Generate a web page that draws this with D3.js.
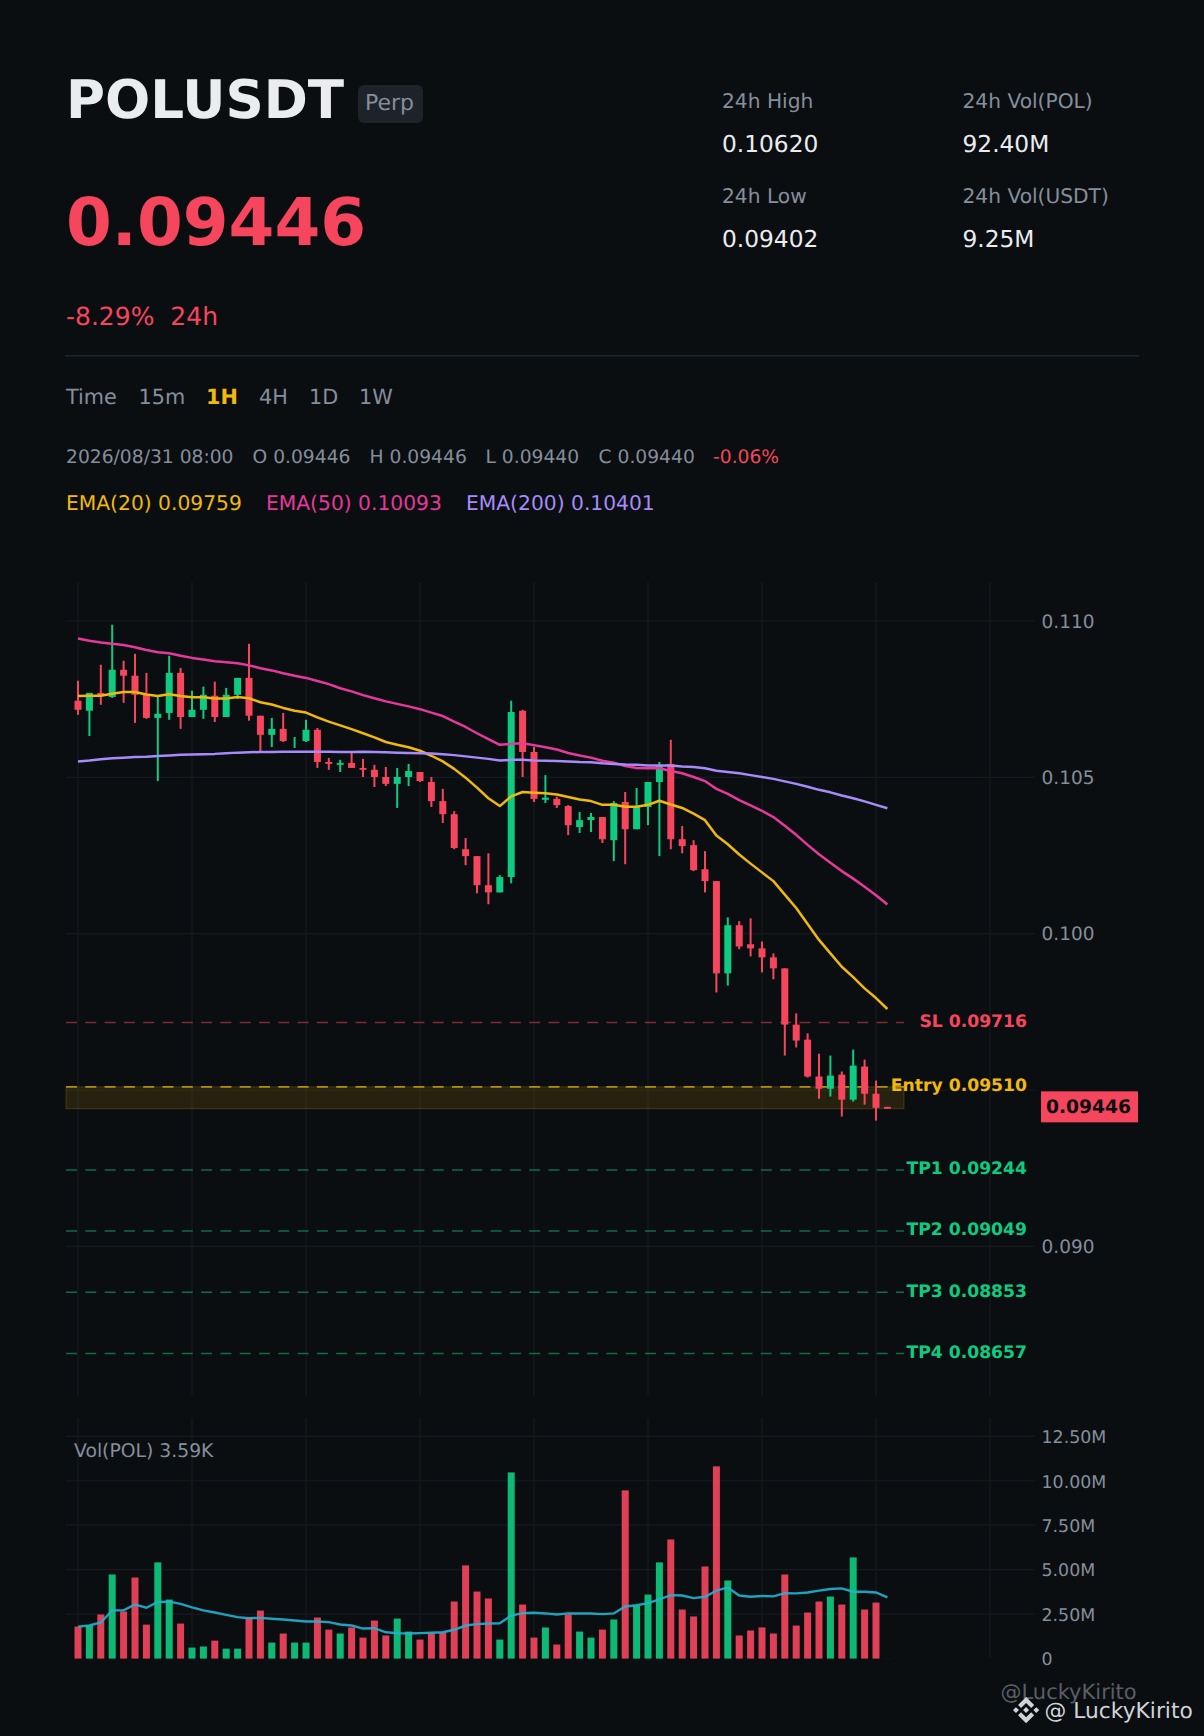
<!DOCTYPE html>
<html><head><meta charset="utf-8">
<script src="https://cdn.jsdelivr.net/npm/d3@7"></script>
<style>html,body{margin:0;padding:0;background:#0B0E11}svg{display:block}text{font-family:"DejaVu Sans",sans-serif;white-space:pre;text-rendering:geometricPrecision}</style>
</head><body><div id="chart"></div>
<script>
const opens=[.10745,.10713,.10770,.10757,.10844,.10825,.10764,.10690,.10706,.10834,.10693,.10716,.10761,.10693,.10764,.10818,.10697,.10636,.10655,.10612,.10616,.10652,.10549,.10540,.10546,.10530,.10524,.10501,.10479,.10501,.10517,.10485,.10424,.10382,.10270,.10248,.10155,.10132,.10181,.10713,.10581,.10428,.10431,.10408,.10341,.10363,.10373,.10299,.10421,.10334,.10405,.10485,.10543,.10302,.10283,.10206,.10168,.09873,.10027,.09966,.09953,.09924,.09889,.09709,.09661,.09543,.09504,.09549,.09469,.09575,.09488,.09446];
const highs=[.10809,.10770,.10860,.10988,.10873,.10895,.10834,.10757,.10889,.10850,.10777,.10790,.10806,.10786,.10818,.10927,.10697,.10690,.10706,.10629,.10684,.10658,.10562,.10556,.10578,.10559,.10540,.10533,.10530,.10543,.10517,.10501,.10463,.10392,.10306,.10248,.10257,.10187,.10745,.10716,.10598,.10507,.10438,.10411,.10389,.10386,.10373,.10424,.10453,.10466,.10485,.10549,.10620,.10344,.10299,.10264,.10168,.10052,.10040,.10049,.09975,.09937,.09889,.09745,.09681,.09616,.09610,.09559,.09629,.09597,.09530,.09446];
const lows=[.10700,.10632,.10732,.10754,.10738,.10674,.10687,.10488,.10684,.10655,.10693,.10687,.10677,.10693,.10751,.10681,.10581,.10597,.10613,.10594,.10613,.10530,.10524,.10517,.10530,.10501,.10469,.10472,.10402,.10472,.10485,.10405,.10354,.10270,.10219,.10129,.10094,.10132,.10161,.10501,.10421,.10418,.10402,.10315,.10322,.10325,.10290,.10232,.10222,.10334,.10347,.10248,.10270,.10257,.10200,.10132,.09812,.09834,.09950,.09927,.09876,.09854,.09610,.09636,.09540,.09472,.09479,.09415,.09463,.09453,.09402,.09440];
const closes=[.10716,.10770,.10761,.10844,.10825,.10764,.10690,.10703,.10834,.10693,.10716,.10764,.10693,.10764,.10818,.10697,.10636,.10655,.10616,.10612,.10652,.10549,.10543,.10546,.10530,.10524,.10501,.10479,.10501,.10520,.10488,.10424,.10382,.10274,.10248,.10155,.10132,.10181,.10709,.10581,.10431,.10435,.10411,.10347,.10363,.10373,.10302,.10418,.10334,.10408,.10485,.10536,.10302,.10280,.10203,.10168,.09873,.10027,.09959,.09953,.09924,.09889,.09709,.09658,.09543,.09504,.09546,.09469,.09578,.09488,.09443,.09440];
const ema20=[.10760,.10761,.10761,.10767,.10773,.10773,.10765,.10760,.10766,.10760,.10756,.10756,.10752,.10752,.10757,.10753,.10740,.10733,.10722,.10713,.10707,.10692,.10678,.10666,.10654,.10641,.10628,.10613,.10604,.10596,.10585,.10569,.10551,.10527,.10499,.10467,.10433,.10408,.10439,.10453,.10451,.10449,.10445,.10437,.10429,.10424,.10412,.10412,.10406,.10406,.10412,.10425,.10413,.10402,.10384,.10363,.10314,.10286,.10253,.10224,.10196,.10168,.10125,.10082,.10031,.09980,.09937,.09894,.09861,.09825,.09794,.09759];
const ema50=[.10944,.10937,.10931,.10927,.10923,.10916,.10907,.10900,.10897,.10889,.10882,.10877,.10871,.10868,.10865,.10858,.10849,.10842,.10833,.10825,.10818,.10808,.10798,.10785,.10775,.10763,.10753,.10743,.10735,.10727,.10718,.10707,.10696,.10678,.10661,.10641,.10622,.10604,.10607,.10609,.10603,.10596,.10589,.10578,.10570,.10563,.10553,.10547,.10536,.10530,.10529,.10529,.10520,.10513,.10501,.10488,.10463,.10447,.10427,.10410,.10393,.10373,.10345,.10316,.10284,.10254,.10227,.10200,.10176,.10150,.10123,.10093];
const ema200=[.10551,.10554,.10558,.10561,.10563,.10565,.10566,.10568,.10570,.10572,.10573,.10574,.10575,.10577,.10579,.10580,.10581,.10581,.10582,.10582,.10582,.10582,.10582,.10581,.10581,.10582,.10581,.10580,.10579,.10578,.10577,.10576,.10574,.10571,.10567,.10563,.10559,.10554,.10556,.10556,.10554,.10553,.10552,.10551,.10549,.10548,.10545,.10543,.10541,.10540,.10538,.10538,.10538,.10535,.10533,.10529,.10521,.10517,.10513,.10507,.10501,.10495,.10487,.10479,.10470,.10460,.10452,.10442,.10433,.10423,.10412,.10401];
const volumes=[1.80,1.86,2.48,4.73,2.65,4.56,1.91,5.41,3.32,1.97,.62,.68,1.01,.56,.56,2.31,2.70,.90,1.41,.90,.90,2.31,1.63,1.41,1.75,1.18,2.14,1.30,2.25,1.52,1.07,1.41,1.46,3.21,5.24,3.77,3.38,1.07,10.47,3.04,1.18,1.75,.79,2.48,1.52,1.18,1.63,2.20,9.46,2.98,3.60,5.41,6.70,2.76,2.37,5.18,10.81,4.39,1.30,1.58,1.75,1.41,4.73,1.86,2.59,3.21,3.49,3.04,5.69,2.76,3.15,.00359];
const volMA=[1.80,1.86,2.03,2.71,2.71,3.04,2.86,3.18,3.20,3.08,2.88,2.71,2.59,2.46,2.33,2.27,2.29,2.24,2.20,2.14,2.09,2.09,2.05,1.92,1.86,1.69,1.71,1.48,1.43,1.41,1.43,1.45,1.48,1.62,1.86,1.94,1.97,1.99,2.42,2.56,2.58,2.54,2.48,2.54,2.54,2.54,2.50,2.54,2.93,3.00,3.12,3.33,3.57,3.55,3.40,3.48,3.82,4.00,3.55,3.48,3.52,3.50,3.68,3.67,3.72,3.82,3.91,3.95,3.76,3.76,3.72,3.44];
const priceGrid=[.110,.105,.100,.095,.090];
const priceTickLabels=[.110,.105,.100,.090];
const volTicks=[0,2.5,5,7.5,10,12.5];
const levels=[["SL",.09716,"#F6465D"],["Entry",.09510,"#F0B90B"],["TP1",.09244,"#0ECB81"],["TP2",.09049,"#0ECB81"],["TP3",.08853,"#0ECB81"],["TP4",.08657,"#0ECB81"]];
const entryZone=[.09510,.09440];
const lastPrice=.09446;
const emaSeries=[[ema20,"#F0B90B"],[ema50,"#E6399B"],[ema200,"#A78BFA"]];

const RED="#F6465D",GREEN="#0ECB81",GRAY="#848E9C",WHITE="#EAECEF",GRID="#161A20";
const svg=d3.select("#chart").append("svg").attr("width",1204).attr("height",1736).attr("viewBox","0 0 1204 1736");
svg.append("rect").attr("width",1204).attr("height",1736).attr("fill","#0B0E11");
const T=(s,x,y,size,fill,weight)=>svg.append("text").attr("x",x).attr("y",y).attr("font-size",size).attr("fill",fill).attr("font-weight",weight||400).text(s);

// header
T("POLUSDT",66,118,53.2,WHITE,700);
svg.append("rect").attr("x",358).attr("y",85).attr("width",65).attr("height",38).attr("rx",6).attr("fill","#1E2329");
T("Perp",365,110,22,GRAY);
T("0.09446",66,245,65.9,RED,700);
T("-8.29%  24h",66,325,25,RED);
T("24h High",722,108,20.2,GRAY);T("24h Vol(POL)",962.5,108,20.2,GRAY);
T("0.10620",722,152,23.3,WHITE);T("92.40M",962.5,152,23.3,WHITE);
T("24h Low",722,203,20.2,GRAY);T("24h Vol(USDT)",962.5,203,20.2,GRAY);
T("0.09402",722,247,23.3,WHITE);T("9.25M",962.5,247,23.3,WHITE);
svg.append("rect").attr("x",65).attr("y",355).attr("width",1074).attr("height",1.5).attr("fill","#1E2530");
[["Time",66],["15m",138.5],["4H",259],["1D",309],["1W",359]].forEach(d=>T(d[0],d[1],404,20.8,GRAY));
T("1H",206,404,20.8,"#F0B90B",700);
[["2026/08/31 08:00",66],["O 0.09446",252.5],["H 0.09446",369.5],["L 0.09440",485.5],["C 0.09440",598.5]].forEach(d=>T(d[0],d[1],463,18.7,GRAY));
T("-0.06%",713,463,18.7,RED);
T("EMA(20) 0.09759",66,510,20.25,"#F0B90B");T("EMA(50) 0.10093",266,510,20.25,"#E6399B");T("EMA(200) 0.10401",466,510,20.25,"#A78BFA");

// scales
const x=d3.scaleLinear().domain([0,71]).range([78,887.4]);
const y=d3.scaleLinear().domain([.09,.11]).range([1246.3,621]);
const yVol=d3.scaleLinear().domain([0,12.5]).range([1658.6,1436.3]);
const idx=d3.range(opens.length);
const vTicks=d3.range(0,81,10);

// grid
const grid=svg.append("g").attr("stroke",GRID).attr("stroke-width",1.2);
grid.selectAll(".vp").data(vTicks).join("line").attr("x1",x).attr("x2",x).attr("y1",582).attr("y2",1396);
grid.selectAll(".vv").data(vTicks).join("line").attr("x1",x).attr("x2",x).attr("y1",1418).attr("y2",1658);
grid.selectAll(".hp").data(priceGrid,d=>"p"+d).join("line").attr("x1",66).attr("x2",1035).attr("y1",y).attr("y2",y);
grid.selectAll(".hv").data(volTicks.slice(1),d=>"v"+d).join("line").attr("x1",66).attr("x2",1035).attr("y1",yVol).attr("y2",yVol);

// entry zone + levels
svg.append("rect").attr("x",66).attr("width",838).attr("y",y(entryZone[0])).attr("height",y(entryZone[1])-y(entryZone[0]))
  .attr("fill","#F0B90B").attr("fill-opacity",.12).attr("stroke","#F0B90B").attr("stroke-opacity",.2);
levels.forEach(([n,v,c])=>{
  svg.append("line").attr("x1",66).attr("x2",904).attr("y1",y(v)).attr("y2",y(v)).attr("stroke",c).attr("stroke-width",1.6).attr("stroke-dasharray","11 8.3").attr("stroke-opacity",n==="Entry"?.7:.5);
  T(n+" "+d3.format(".5f")(v),1027,y(v)+4.3,17.2,c,700).attr("text-anchor","end");
});

// volume bars
svg.append("g").selectAll("rect").data(idx).join("rect")
  .attr("x",i=>x(i)-3.5).attr("width",7).attr("y",i=>yVol(volumes[i])).attr("height",i=>yVol(0)-yVol(volumes[i]))
  .attr("fill",i=>closes[i]>=opens[i]?GREEN:RED).attr("fill-opacity",.9);
svg.append("path").attr("fill","none").attr("stroke","#22B1CF").attr("stroke-width",2.4).attr("stroke-opacity",.9)
  .attr("d",d3.line().x((d,i)=>x(i)).y(d=>yVol(d))(volMA));

// candles
const cg=svg.append("g");
cg.selectAll(".w").data(idx).join("rect").attr("x",i=>x(i)-1).attr("width",2).attr("y",i=>y(highs[i])).attr("height",i=>y(lows[i])-y(highs[i]))
  .attr("fill",i=>closes[i]>=opens[i]?GREEN:RED);
cg.selectAll(".b").data(idx,i=>"b"+i).join("rect").attr("x",i=>x(i)-3.5).attr("width",7)
  .attr("y",i=>y(Math.max(opens[i],closes[i]))).attr("height",i=>Math.abs(y(opens[i])-y(closes[i])))
  .attr("fill",i=>closes[i]>=opens[i]?GREEN:RED);

// EMAs
emaSeries.forEach(([s,c])=>svg.append("path").attr("fill","none").attr("stroke",c).attr("stroke-width",2.5).attr("stroke-linejoin","round")
  .attr("d",d3.line().x((d,i)=>x(i)).y(d=>y(d))(s)));

// axes
const ap=svg.append("g").attr("transform","translate(1041.5,0)").call(d3.axisRight(y).tickValues(priceTickLabels).tickFormat(d3.format(".3f")).tickSize(0).tickPadding(0));
const av=svg.append("g").attr("transform","translate(1041.5,0)").call(d3.axisRight(yVol).tickValues(volTicks).tickFormat(d=>d===0?"0":d3.format(".2f")(d)+"M").tickSize(0).tickPadding(0));
ap.select(".domain").remove();av.select(".domain").remove();
ap.selectAll("text").attr("font-size",18.5).attr("fill",GRAY).attr("font-family",'"DejaVu Sans"').attr("dy",".33em");
av.selectAll("text").attr("font-size",17.4).attr("fill",GRAY).attr("font-family",'"DejaVu Sans"').attr("dy",".36em");

// current price tag
svg.append("rect").attr("x",1041).attr("width",97).attr("y",y(lastPrice)-15.5).attr("height",31).attr("fill",RED);
T("0.09446",1046,y(lastPrice)+6.5,18.7,"#0B0E11",700);
T("Vol(POL) 3.59K",74,1457,18.8,GRAY);

// watermark: the two captions touch in the reference as well, so the upper one sits just above the lower
T("@LuckyKirito",1000.5,1699,21,"#5A5F66").attr("font-family","Noto Sans");
svg.append("path").attr("transform","translate(1013,1697) scale(0.207)").attr("fill","#D0D3D8")
 .attr("d","m38.73 53.2 24.59-24.58 24.6 24.6 14.3-14.31-38.9-38.91-38.9 38.9zm-38.73 10.11 14.3-14.31 14.31 14.31-14.31 14.3zm38.73 10.1 24.59 24.59 24.6-24.6 14.31 14.29-38.9 38.91-38.91-38.88-.02-.02zm59.57-10.1 14.3-14.31 14.31 14.31-14.31 14.3zm-20.69-.01-14.51-14.52-10.73 10.73-1.24 1.23-2.54 2.54 14.51 14.51 14.52-14.51z");
T("@ LuckyKirito",1044.5,1718,21.8,"#D0D3D8").attr("font-family","Noto Sans");
</script></body></html>
